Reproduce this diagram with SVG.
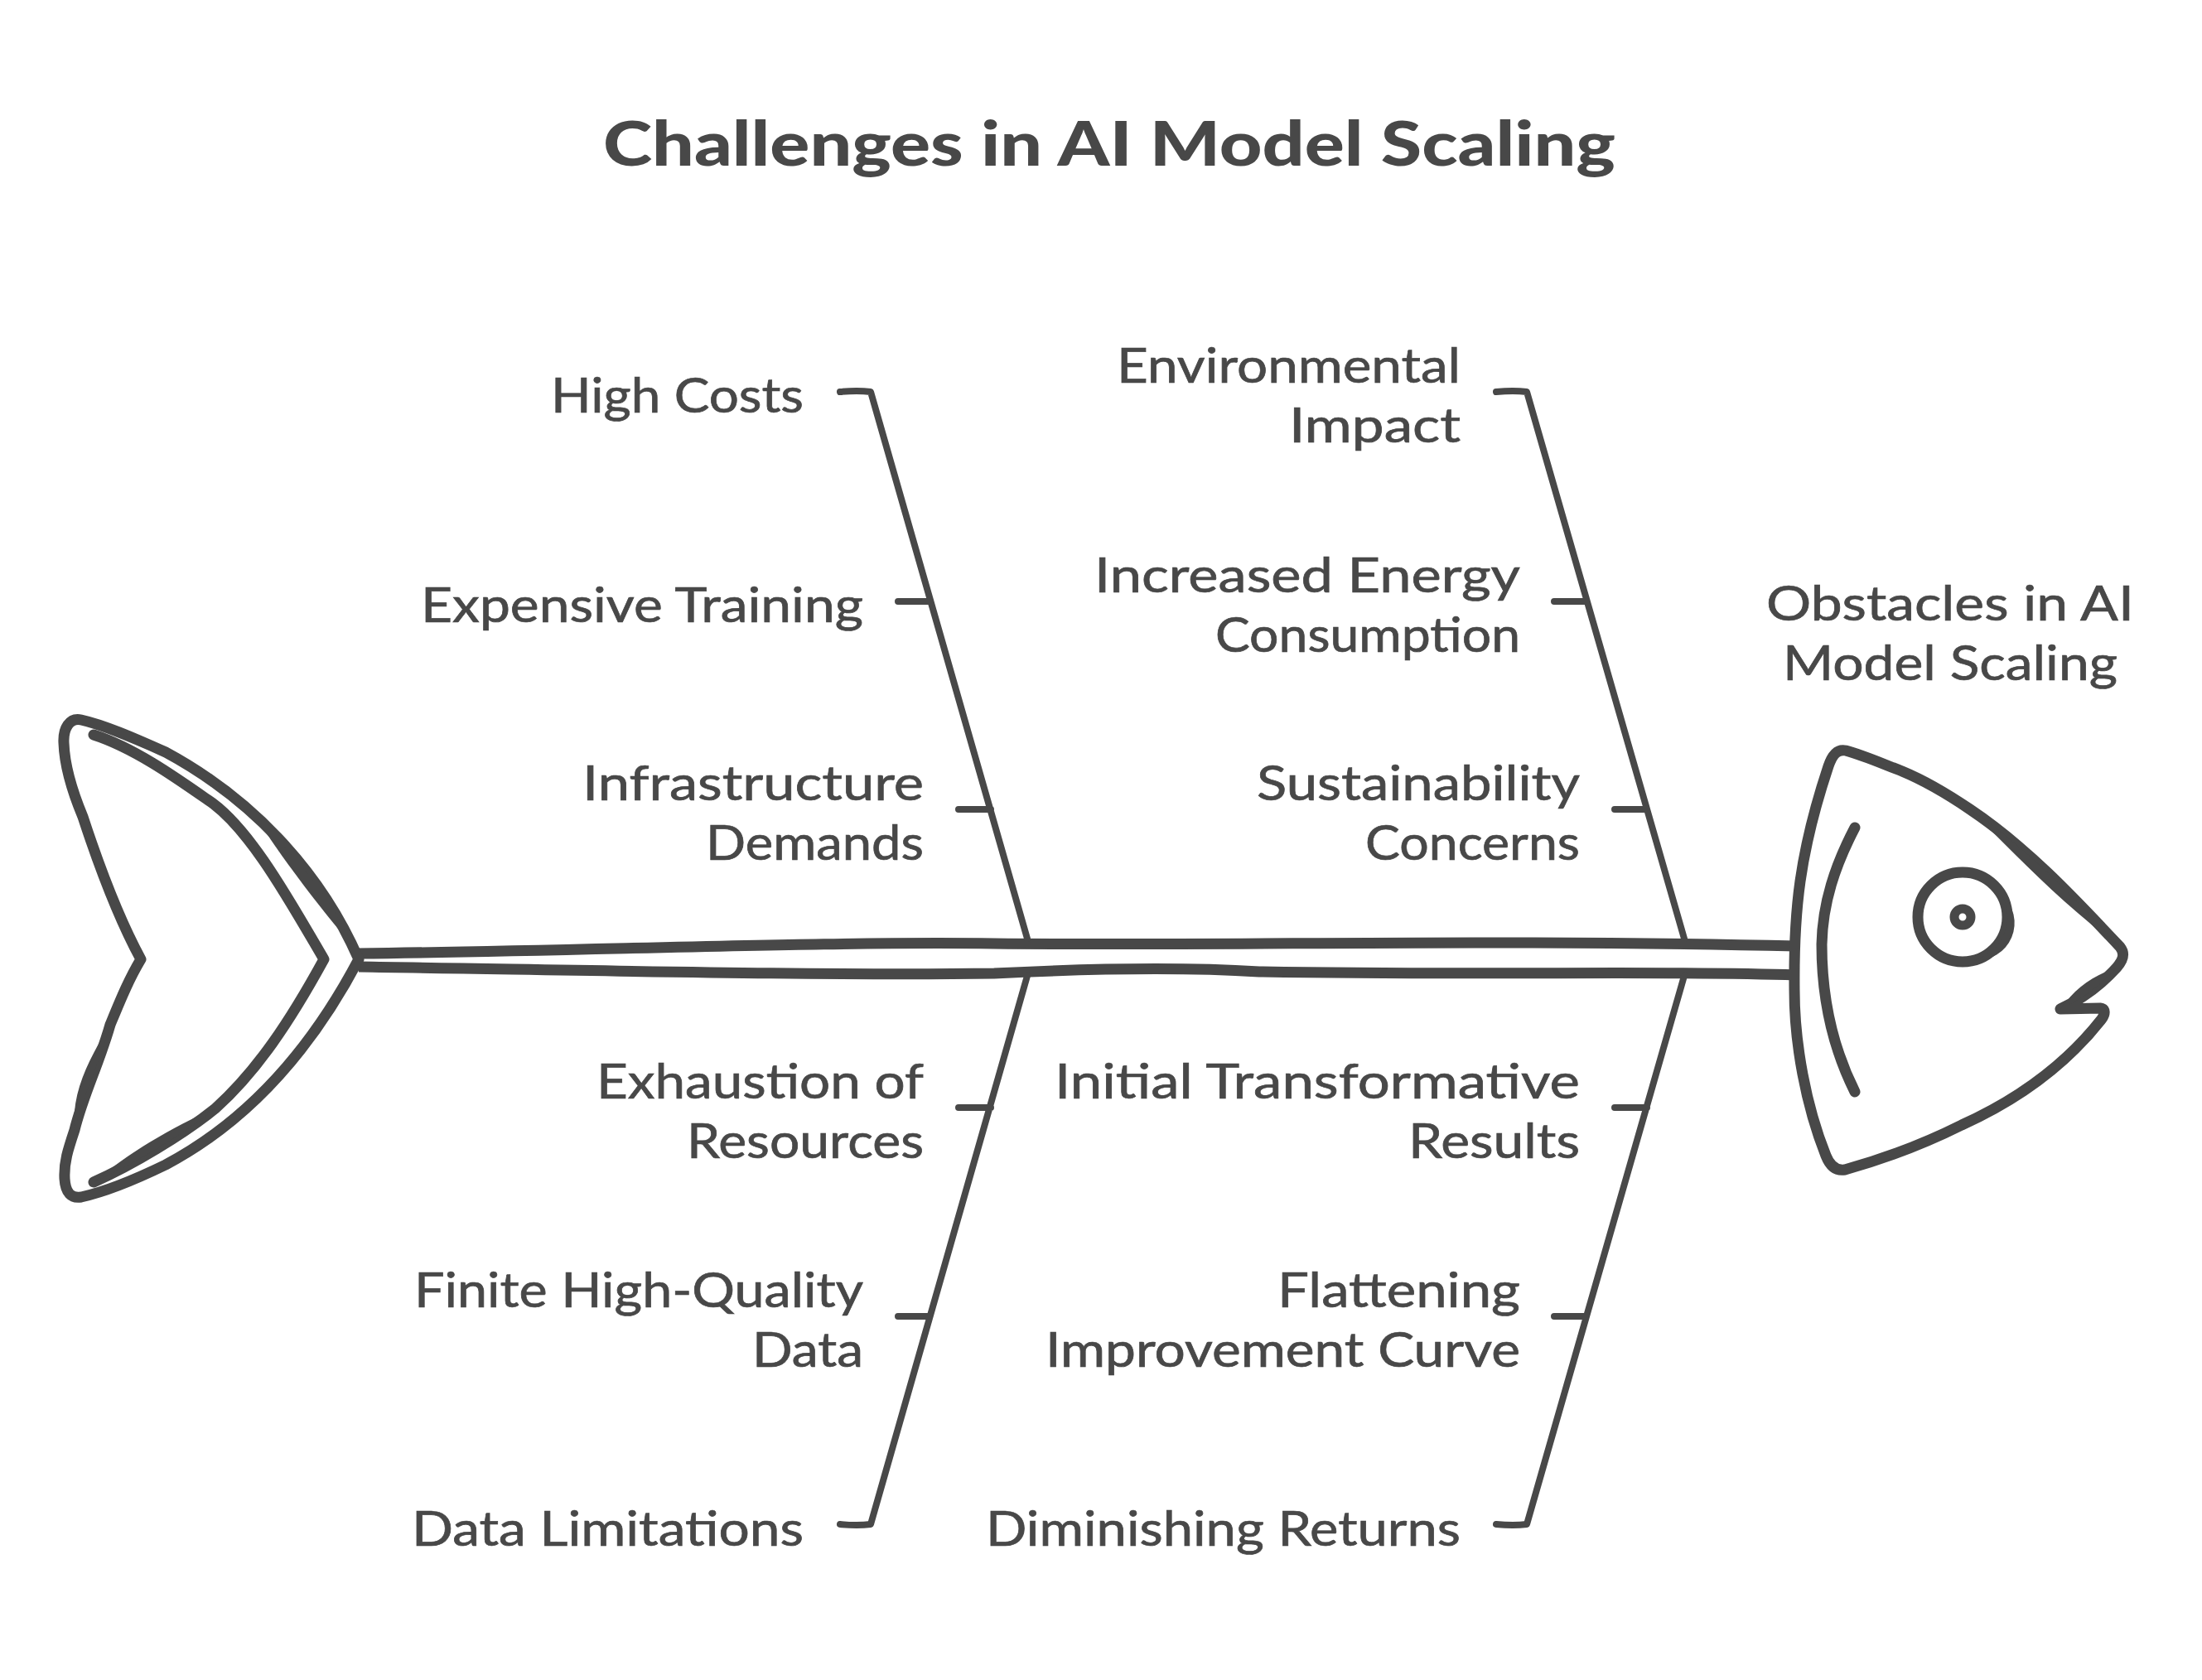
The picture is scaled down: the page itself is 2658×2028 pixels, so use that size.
<svg xmlns="http://www.w3.org/2000/svg" width="2658" height="2028" viewBox="0 0 2658 2028">
<style>
.bg{fill:#fff}
.l{fill:none;stroke:#484848;stroke-linecap:round;stroke-linejoin:round}
.o{stroke-width:13}
.f{fill:#484848}
.b{stroke-width:8}
.s{stroke-width:13;stroke-linecap:butt}
text{font-family:"Lato","Noto Sans",sans-serif;font-size:58px;fill:#484848;stroke:#484848;stroke-width:.7;text-anchor:end}
#title text{font-size:74px;font-weight:900;stroke:none;text-anchor:middle}
#head-label text{text-anchor:middle}
</style>
<rect class="bg" width="2658" height="2028"/>
<g id="title"><text x="1339" y="200" textLength="1222" lengthAdjust="spacingAndGlyphs">Challenges in AI Model Scaling</text></g>
<g id="connectors">
<path class="l s" d="M433 1151 C 700 1148 1000 1136 1200 1139 C 1500 1142 1800 1133 2168 1142"/>
<path class="l s" d="M433 1167 C 700 1171 1000 1178 1200 1175 C 1300 1170 1420 1167 1520 1173 C 1800 1178 2000 1171 2168 1177"/>
<path class="l b" d="M1014 473 Q1035 471 1051 473 L1240 1133M1084 726 L1122 726M1157 977 L1196 977"/>
<path class="l b" d="M1240 1178 L1051 1840 Q1035 1842 1014 1840M1157 1337 L1196 1337M1084 1589 L1122 1589"/>
<path class="l b" d="M1806 473 Q1827 471 1843 473 L2033 1133M1876 726 L1914 726M1949 977 L1988 977"/>
<path class="l b" d="M2033 1178 L1843 1840 Q1827 1842 1806 1840M1949 1337 L1988 1337M1876 1589 L1914 1589"/>
</g>
<g id="tail">
<path class="l o" d="M433 1158 C 385 1048 300 962 200 908 C 160 890 125 875 98 869 C 84 866 76 879 77 897 C 78 927 90 962 100 986 C 120 1047 145 1112 170 1158 C 155 1183 145 1208 133 1237 C 120 1283 100 1323 90 1364 C 82 1388 77 1403 78 1423 C 79 1440 86 1447 98 1445 C 130 1438 165 1423 200 1406 C 300 1353 375 1268 433 1158"/>
<path class="f" d="M311 990 C 362 1037 404 1092 425 1141 C 392 1103 349 1048 311 990 Z"/>
<path class="f" d="M133 1237 C 120 1283 100 1323 90 1364 C 86 1320 106 1280 133 1237 Z"/>
<path class="l o" d="M113 887 C 160 902 210 937 250 965 C 300 997 350 1088 391 1158 C 350 1233 310 1293 260 1338 C 220 1370 160 1406 113 1427"/>
<path class="f" d="M260 1338 C 220 1370 160 1406 113 1427 C 153 1393 213 1357 260 1338 Z"/>
</g>
<g id="head">
<path class="l o" d="M2228 906 C 2250 912 2270 921 2296 931 C 2325 943 2350 958 2378 977 C 2445 1022 2500 1080 2559 1143 C 2566 1152 2562 1160 2555 1168 C 2535 1190 2515 1205 2487 1218 L2535 1217 C 2542 1218 2541 1224 2537 1230 C 2490 1290 2430 1330 2368 1358 C 2320 1382 2270 1400 2227 1412 C 2215 1414 2208 1405 2204 1395 C 2180 1335 2166 1260 2166 1195 C 2165 1100 2172 1030 2207 925 C 2212 910 2218 904 2228 906 Z"/>
<path class="f" d="M2378 977 C 2445 1022 2500 1080 2559 1143 C 2489 1091 2434 1033 2378 977 Z"/>
<path class="f" d="M2555 1168 C 2535 1190 2515 1205 2487 1218 C 2505 1193 2525 1178 2555 1168 Z"/>
<path class="l o" d="M2239 999 C 2215 1045 2200 1090 2199 1140 C 2199 1200 2210 1260 2239 1318"/>
<circle class="l o" cx="2369" cy="1107" r="54"/>
<path class="f" d="M2416 1080 A54 54 0 0 1 2383 1159 A45 45 0 0 0 2416 1080 Z"/>
<circle class="l" style="stroke-width:11" cx="2369" cy="1107" r="10"/>
</g>
<g id="head-label"><text x="2354" y="749" textLength="444" lengthAdjust="spacingAndGlyphs">Obstacles in AI</text><text x="2354" y="821" textLength="404" lengthAdjust="spacingAndGlyphs">Model Scaling</text></g>
<g id="n1"><text x="970" y="498" textLength="305" lengthAdjust="spacingAndGlyphs">High Costs</text></g>
<g id="n2"><text x="1042" y="751" textLength="534" lengthAdjust="spacingAndGlyphs">Expensive Training</text></g>
<g id="n3"><text x="1115" y="966" textLength="412" lengthAdjust="spacingAndGlyphs">Infrastructure</text><text x="1115" y="1038" textLength="263" lengthAdjust="spacingAndGlyphs">Demands</text></g>
<g id="n4"><text x="1115" y="1326" textLength="395" lengthAdjust="spacingAndGlyphs">Exhaustion of</text><text x="1115" y="1398" textLength="286" lengthAdjust="spacingAndGlyphs">Resources</text></g>
<g id="n5"><text x="1042" y="1578" textLength="542" lengthAdjust="spacingAndGlyphs">Finite High-Quality</text><text x="1042" y="1650" textLength="134" lengthAdjust="spacingAndGlyphs">Data</text></g>
<g id="n6"><text x="970" y="1866" textLength="473" lengthAdjust="spacingAndGlyphs">Data Limitations</text></g>
<g id="n7"><text x="1763" y="462" textLength="415" lengthAdjust="spacingAndGlyphs">Environmental</text><text x="1763" y="534" textLength="207" lengthAdjust="spacingAndGlyphs">Impact</text></g>
<g id="n8"><text x="1835" y="715" textLength="514" lengthAdjust="spacingAndGlyphs">Increased Energy</text><text x="1835" y="787" textLength="368" lengthAdjust="spacingAndGlyphs">Consumption</text></g>
<g id="n9"><text x="1907" y="966" textLength="390" lengthAdjust="spacingAndGlyphs">Sustainability</text><text x="1907" y="1038" textLength="259" lengthAdjust="spacingAndGlyphs">Concerns</text></g>
<g id="n10"><text x="1907" y="1326" textLength="634" lengthAdjust="spacingAndGlyphs">Initial Transformative</text><text x="1907" y="1398" textLength="207" lengthAdjust="spacingAndGlyphs">Results</text></g>
<g id="n11"><text x="1835" y="1578" textLength="293" lengthAdjust="spacingAndGlyphs">Flattening</text><text x="1835" y="1650" textLength="573" lengthAdjust="spacingAndGlyphs">Improvement Curve</text></g>
<g id="n12"><text x="1763" y="1866" textLength="573" lengthAdjust="spacingAndGlyphs">Diminishing Returns</text></g>
</svg>
